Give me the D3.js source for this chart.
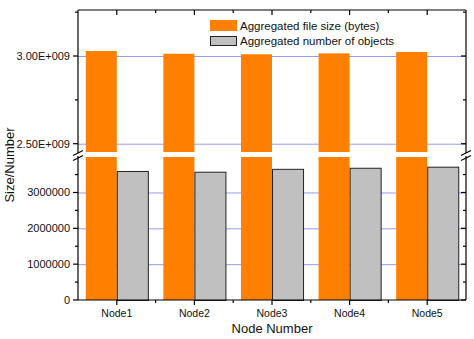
<!DOCTYPE html>
<html><head><meta charset="utf-8">
<script src="https://cdn.jsdelivr.net/npm/d3@7"></script>
<style>body{margin:0;background:#fff}svg{display:block;font-family:"Liberation Sans",Arial,sans-serif}</style>
</head><body><svg id="c" width="474" height="339"></svg>
<script>
const categories = ["Node1","Node2","Node3","Node4","Node5"];
const fileSize = [3.0285e9, 3.013e9, 3.010e9, 3.015e9, 3.023e9];
const objectCount = [3.60e6, 3.58e6, 3.66e6, 3.69e6, 3.72e6];
const seriesNames = ["Aggregated file size (bytes)", "Aggregated number of objects"];
const upperMajor = [2.5e9, 3.0e9];
const upperMajorLabels = ["2.50E+009", "3.00E+009"];
const upperMinor = [2.75e9, 3.25e9];
const lowerMajor = [0, 1e6, 2e6, 3e6];
const lowerMajorLabels = ["0", "1000000", "2000000", "3000000"];
const lowerMinor = [0.5e6, 1.5e6, 2.5e6, 3.5e6];

const L = 78, R = 466, T = 10, UB = 152, LT = 157, B = 300;
const svg = d3.select("#c");
const x = d3.scaleBand().domain(categories).range([L, R]).paddingInner(0).paddingOuter(0);
const bw = x.bandwidth();
const sub = d3.scaleBand().domain([0,1]).range([0, bw]).paddingOuter(0.25).paddingInner(0);
const yU = d3.scaleLinear().domain([2.4527e9, 3.2623e9]).range([UB, T]);
const yL = d3.scaleLinear().domain([0, 3.99e6]).range([B, LT]);
const orange = "#ff8000", gray = "#c0c0c0", grid = "#9999ee";

// grid
const g = svg.append("g");
g.selectAll(".gu").data(upperMajor).join("line").attr("x1", L).attr("x2", R)
  .attr("y1", d => yU(d)+0.5).attr("y2", d => yU(d)+0.5).attr("stroke", grid);
g.selectAll(".gl").data(lowerMajor.filter(d=>d>0)).join("line").attr("x1", L).attr("x2", R)
  .attr("y1", d => yL(d)+0.5).attr("y2", d => yL(d)+0.5).attr("stroke", grid);

// upper bars (orange only)
svg.append("g").selectAll("rect").data(categories).join("rect")
  .attr("x", (c) => x(c) + sub(0)).attr("width", sub.bandwidth())
  .attr("y", (c,i) => yU(fileSize[i])).attr("height", (c,i) => UB - yU(fileSize[i]))
  .attr("fill", orange);
// lower bars: orange clipped to lower panel top
svg.append("g").selectAll("rect").data(categories).join("rect")
  .attr("x", (c) => x(c) + sub(0)).attr("width", sub.bandwidth())
  .attr("y", LT).attr("height", B - LT)
  .attr("fill", orange);
svg.append("g").selectAll("rect").data(categories).join("rect")
  .attr("x", (c) => x(c) + sub(1) + 0.5).attr("width", sub.bandwidth())
  .attr("y", (c,i) => yL(objectCount[i]) + 0.5).attr("height", (c,i) => B - yL(objectCount[i]))
  .attr("fill", gray).attr("stroke", "#222").attr("stroke-width", 1);

// frame lines
const ax = svg.append("g").attr("stroke", "#000").attr("stroke-width", 1.2).attr("fill", "none");
ax.append("line").attr("x1", L).attr("x2", L).attr("y1", T).attr("y2", UB+1);
ax.append("line").attr("x1", L).attr("x2", L).attr("y1", LT-1).attr("y2", B);
ax.append("line").attr("x1", R).attr("x2", R).attr("y1", T).attr("y2", UB+1);
ax.append("line").attr("x1", R).attr("x2", R).attr("y1", LT-1).attr("y2", B);
ax.append("line").attr("x1", L).attr("x2", R).attr("y1", T).attr("y2", T);
ax.append("line").attr("x1", L).attr("x2", R).attr("y1", B).attr("y2", B);

// break marks
[L, R].forEach(px => {
  [UB + 1, LT + 1].forEach(py => {
    ax.append("line").attr("x1", px-5).attr("y1", py+2.5).attr("x2", px+5).attr("y2", py-2.5);
  });
});

// y ticks left (outward) & right (inward)
function yTicks(vals, scale, len) {
  vals.forEach(v => {
    const yy = scale(v);
    ax.append("line").attr("x1", L-len).attr("x2", L).attr("y1", yy).attr("y2", yy);
    ax.append("line").attr("x1", R-len).attr("x2", R).attr("y1", yy).attr("y2", yy);
  });
}
yTicks(upperMajor, yU, 5); yTicks(upperMinor, yU, 3);
yTicks(lowerMajor, yL, 5); yTicks(lowerMinor, yL, 3);

const lab = svg.append("g").attr("font-size", 11).attr("fill", "#111").attr("text-anchor", "end");
upperMajor.forEach((v,i) => lab.append("text").attr("x", L-8).attr("y", yU(v)+4).text(upperMajorLabels[i]));
lowerMajor.forEach((v,i) => lab.append("text").attr("x", L-8).attr("y", yL(v)+4).text(lowerMajorLabels[i]));

// x ticks: bottom outward, top inward
categories.forEach(c => {
  const cx = x(c) + bw/2;
  ax.append("line").attr("x1", cx).attr("x2", cx).attr("y1", B).attr("y2", B+5);
  ax.append("line").attr("x1", cx).attr("x2", cx).attr("y1", T).attr("y2", T+5);
});
d3.range(1, categories.length).forEach(i => {
  const bx = L + i*bw;
  ax.append("line").attr("x1", bx).attr("x2", bx).attr("y1", B).attr("y2", B+3);
  ax.append("line").attr("x1", bx).attr("x2", bx).attr("y1", T).attr("y2", T+3);
});
svg.append("g").attr("font-size", 10.5).attr("fill", "#111").attr("text-anchor", "middle")
  .selectAll("text").data(categories).join("text")
  .attr("x", c => x(c) + bw/2).attr("y", 317).text(c => c);

// axis titles
svg.append("text").attr("x", (L+R)/2).attr("y", 333).attr("text-anchor", "middle")
  .attr("font-size", 13).attr("fill", "#111").text("Node Number");
svg.append("text").attr("transform", "translate(14,165) rotate(-90)").attr("text-anchor", "middle")
  .attr("font-size", 13).attr("fill", "#111").text("Size/Number");

// legend
const lg = svg.append("g");
lg.append("rect").attr("x", 210).attr("y", 20).attr("width", 27).attr("height", 11).attr("fill", orange);
lg.append("rect").attr("x", 210.5).attr("y", 36.5).attr("width", 26).attr("height", 9).attr("fill", gray).attr("stroke", "#222");
lg.append("text").attr("x", 240).attr("y", 29.5).attr("font-size", 11.5).attr("fill", "#111").text(seriesNames[0]);
lg.append("text").attr("x", 240).attr("y", 44.5).attr("font-size", 11.5).attr("fill", "#111").text(seriesNames[1]);
</script></body></html>
